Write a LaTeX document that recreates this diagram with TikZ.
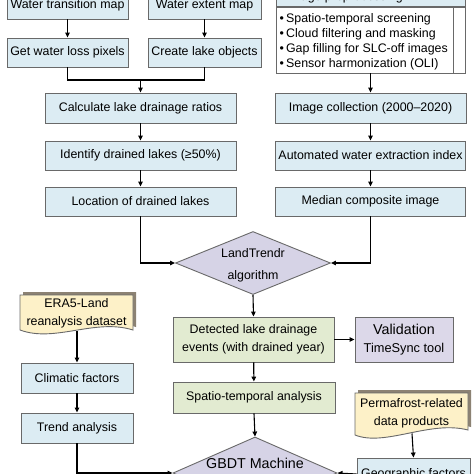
\documentclass[tikz,border=0pt]{standalone}
\usepackage{fontspec}
\setmainfont{Liberation Sans}
\usetikzlibrary{shapes.geometric,arrows.meta,calc}
\definecolor{lblue}{RGB}{220,236,243}
\definecolor{bordergray}{RGB}{105,105,105}
\definecolor{lav}{RGB}{214,211,230}
\definecolor{vlav}{RGB}{220,216,233}
\definecolor{lgreen}{RGB}{226,235,209}
\definecolor{lyellow}{RGB}{253,241,200}
\definecolor{shadowc}{RGB}{140,130,115}
\newcommand\fsn{\fontsize{12.4pt}{18pt}\selectfont}
\newcommand\fsb{\fontsize{14.3pt}{18pt}\selectfont}
\newcommand\fsm{\fontsize{12.8pt}{18pt}\selectfont}
\begin{document}
\begin{tikzpicture}[x=1pt,y=-1pt,
  box/.style={draw=bordergray, fill=lblue, line width=0.9pt, inner sep=0pt, align=center, font=\fsn},
  arr/.style={draw=black, line width=1.1pt, -{Triangle[length=5pt,width=4.5pt]}},
  ln/.style={draw=black, line width=1.1pt},
  dia/.style={diamond, draw=bordergray, fill=lav, line width=0.9pt, inner sep=0pt},
  plain/.style={inner sep=0pt, align=center, font=\fsn},
  docshape/.style={draw=bordergray, fill=lyellow, line width=0.9pt},
]
\useasboundingbox (0,0) rectangle (474,474);
\clip (0,0) rectangle (474,474);
\fill[white] (0,0) rectangle (474,474);

% left top column
\node[box, minimum width=121pt, minimum height=27pt] (wtm) at (67.5,5.5) {Water transition map};
\node[box, minimum width=113pt, minimum height=27pt] (wem) at (204.5,5.5) {Water extent map};
\node[box, minimum width=121pt, minimum height=29pt] (gwl) at (67.5,52.5) {Get water loss pixels};
\node[box, minimum width=113pt, minimum height=29pt] (clo) at (204.5,52.5) {Create lake objects};
\node[box, minimum width=191pt, minimum height=30pt] (cldr) at (140.5,108) {Calculate lake drainage ratios};
\node[box, minimum width=191pt, minimum height=29pt] (idl) at (140.5,155.5) {Identify drained lakes (≥50\%)};
\node[box, minimum width=191pt, minimum height=29pt] (lodl) at (140.5,201.5) {Location of drained lakes};

% right top column
\node[box, minimum width=189pt, minimum height=24pt, anchor=south] (pphead) at (370.5,7) {};
\node[plain, anchor=base] (pptext) at (345,0.5) {Image preprocessing};
\node[draw=bordergray, fill=white, line width=0.9pt, minimum width=189pt, minimum height=66pt, inner sep=0pt] (list) at (370.5,40) {};
\draw[bordergray, line width=0.9pt] ($(list.north east)+(-12,0)$) -- ($(list.south east)+(-12,0)$);
\node[plain, anchor=base west] (li1) at (279.5,22.5) {\textbullet\,Spatio-temporal screening};
\node[plain, anchor=base west] (li2) at (279.5,37.5) {\textbullet\,Cloud filtering and masking};
\node[plain, anchor=base west] (li3) at (279.5,52.5) {\textbullet\,Gap filling for SLC-off images};
\node[plain, anchor=base west] (li4) at (279.5,67.5) {\textbullet\,Sensor harmonization (OLI)};
\node[box, minimum width=191pt, minimum height=30pt] (ic) at (370.5,108) {Image collection (2000–2020)};
\node[box, minimum width=190pt, minimum height=29pt] (awei) at (370.5,155.5) {Automated water extraction index};
\node[box, minimum width=190pt, minimum height=29pt] (mci) at (370.5,201.5) {Median composite image};

% LandTrendr
\node[dia, minimum width=155pt, minimum height=63pt] (lt) at (253,263) {};
\node[plain, font=\fsn] (lttext) at (253,265) {LandTrendr\\[4pt]algorithm};

% middle column
\node[box, fill=lgreen, minimum width=161pt, minimum height=45pt] (det) at (253.5,339.5) {Detected lake drainage\\events (with drained year)};
\node[box, fill=vlav, minimum width=98pt, minimum height=45pt] (val) at (404,339.5) {{\fsb Validation}\\{\fsm TimeSync tool}};
\node[box, fill=lgreen, minimum width=162pt, minimum height=31pt] (sta) at (254,397.5) {Spatio-temporal analysis};

% GBDT
\node[dia, minimum width=164pt, minimum height=72pt] (gbdt) at (255,473) {};
\node[plain, font=\fsb] (gbdttext) at (255,463) {GBDT Machine};

% ERA5 document
\node[plain, minimum width=113pt, minimum height=35pt] (era) at (76.5,313.5) {ERA5-Land\\reanalysis dataset};
\fill[shadowc] (23,292) -- (136,292) -- (136,327) .. controls (98,315) and (58,340) .. (23,327) -- cycle;
\path[docshape] (20,295) -- (133,295) -- (133,330) .. controls (95,318) and (55,343) .. (20,330) -- cycle;
\node[plain] (eratext) at (76.5,313.5) {ERA5-Land\\reanalysis dataset};
\coordinate (eraout) at (77,331);

\node[box, minimum width=112pt, minimum height=30pt] (clim) at (77,378) {Climatic factors};
\node[box, minimum width=112pt, minimum height=30pt] (trend) at (77,428) {Trend analysis};

% Permafrost document
\node[plain, minimum width=113pt, minimum height=38pt] (perm) at (411.5,413) {Permafrost-related\\data products};
\fill[shadowc] (358,390) -- (471,390) -- (471,427) .. controls (433,417) and (388,444) .. (358,432) -- cycle;
\path[docshape] (355,393) -- (468,393) -- (468,430) .. controls (430,420) and (385,447) .. (355,435) -- cycle;
\node[plain] (permtext) at (411.5,413) {Permafrost-related\\data products};
\coordinate (permout) at (412,433.5);

\node[box, minimum width=113pt, minimum height=32pt] (geo) at (413.5,474) {Geographic factors};

% connectors
\draw[arr] (wtm) -- (gwl);
\draw[arr] (wem) -- (clo);
\coordinate (jn) at (140.5,80);
\draw[ln] (gwl.south) |- (jn);
\draw[ln] (clo.south) |- (jn);
\draw[arr] (jn) -- (cldr.north);
\draw[arr] (cldr) -- (idl);
\draw[arr] (idl) -- (lodl);
\draw[arr] (lodl.south) |- (lt.west);
\draw[arr] (list.south) -- (ic.north);
\draw[arr] (ic) -- (awei);
\draw[arr] (awei) -- (mci);
\draw[arr] (mci.south) |- (lt.east);
\draw[arr] (lt.south) -- (det.north);
\draw[arr] (det.east) -- (val.west);
\draw[arr] (det) -- (sta);
\draw[arr] (sta.south) -- (gbdt.north);
\draw[arr] (eraout) -- (clim.north);
\draw[arr] (clim) -- (trend);
\draw[arr] (trend.south) |- (gbdt.west);
\draw[arr] (permout) -- (geo.north);
\draw[arr] (geo.west) -- (gbdt.east);
\end{tikzpicture}
\end{document}
